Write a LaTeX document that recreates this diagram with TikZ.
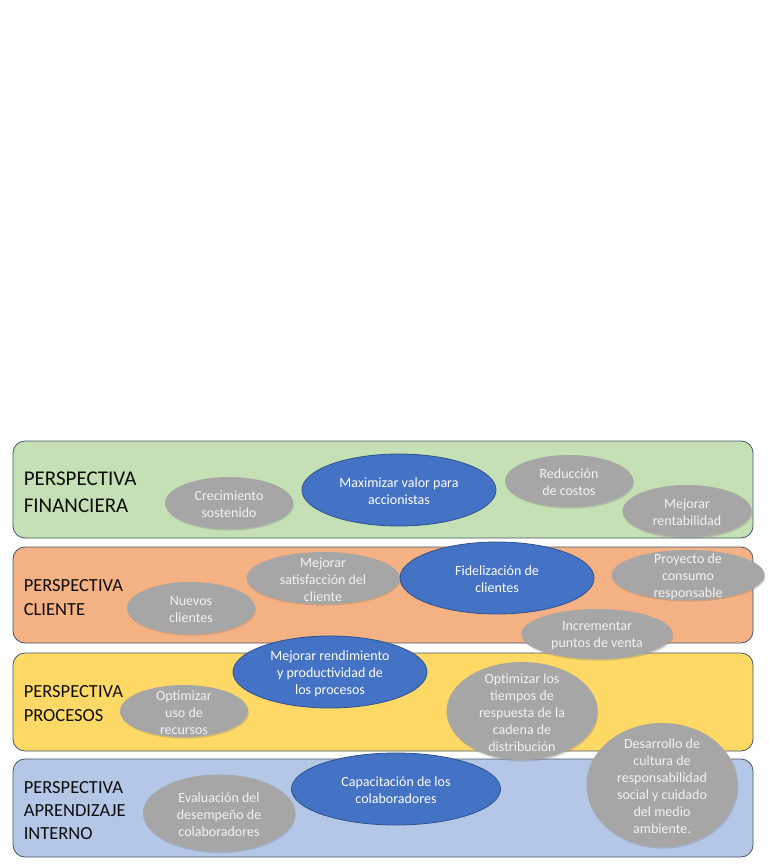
\documentclass[tikz,border=0pt]{standalone}
\usepackage{fontspec}
\setmainfont{Carlito}
\usepackage{tikz}
\usetikzlibrary{shapes.geometric, shadows, positioning}
\definecolor{bandline}{RGB}{68, 84, 106}
\definecolor{finfill}{RGB}{197, 224, 180}
\definecolor{clifill}{RGB}{244, 177, 131}
\definecolor{profill}{RGB}{255, 217, 102}
\definecolor{aprfill}{RGB}{180, 199, 231}
\definecolor{goalblue}{RGB}{68, 114, 196}
\definecolor{goalline}{RGB}{47, 82, 143}
\definecolor{goalgray}{RGB}{166, 166, 166}
\definecolor{goaltext}{RGB}{242, 242, 242}

\begin{document}
\begin{tikzpicture}[x=1pt, y=-1pt,
  band/.style={draw=bandline, line width=0.8pt, rounded corners=12pt, minimum width=740pt, inner sep=0pt},
  bandtxt/.style={anchor=west, align=left, text=black!95, inner sep=0pt},
  bigtxt/.style={font={\fontsize{21}{27}\selectfont}},
  midtxt/.style={font={\fontsize{18.5}{24}\selectfont}},
  goaltxt/.style={align=center, font={\fontsize{14}{17}\selectfont}, inner sep=0pt, yshift=-1.5pt},
  graygoal/.style={ellipse, fill=goalgray, inner sep=0pt,
    drop shadow={shadow xshift=0.8pt, shadow yshift=-1.6pt, opacity=0.35},
    label={[goaltxt, text=goaltext]center:{#1}}},
  bluegoal/.style={ellipse, draw=goalline, line width=0.8pt, fill=goalblue, inner sep=0pt,
    label={[goaltxt, text=white]center:{#1}}}]
  \useasboundingbox (0,0) rectangle (768,866);

  % perspectivas
  \node[band, fill=finfill, minimum height=97pt] (fin) at (383,489.5) {};
  \node[band, fill=clifill, minimum height=96pt] (cli) at (383,595) {};
  \node[band, fill=profill, minimum height=98pt] (pro) at (383,702) {};
  \node[band, fill=aprfill, minimum height=98pt] (apr) at (383,808) {};

  \node[bandtxt, bigtxt, right=11pt of fin.west, yshift=-3pt] (finlbl) {PERSPECTIVA\\FINANCIERA};
  \node[bandtxt, midtxt, right=11pt of cli.west, yshift=-2.5pt] (clilbl) {PERSPECTIVA\\CLIENTE};
  \node[bandtxt, midtxt, right=11pt of pro.west, yshift=-2pt] (prolbl) {PERSPECTIVA\\PROCESOS};
  \node[bandtxt, midtxt, right=11pt of apr.west, yshift=-2.5pt, font={\fontsize{18.5}{23}\selectfont}] (aprlbl) {PERSPECTIVA\\APRENDIZAJE\\INTERNO};

  % financiera
  \node[graygoal={Crecimiento\\sostenido}, minimum width=128pt, minimum height=52pt] (crec) at (229,503) {};
  \node[bluegoal={Maximizar valor para\\accionistas}, minimum width=194pt, minimum height=72pt] (maxv) at (399,490) {};
  \node[graygoal={Reducción\\de costos}, minimum width=128pt, minimum height=52pt] (redu) at (569,481) {};
  \node[graygoal={Mejorar\\rentabilidad}, minimum width=129pt, minimum height=52pt] (rent) at (687,511) {};

  % cliente
  \node[graygoal={Nuevos\\clientes}, minimum width=128pt, minimum height=52pt] (nuev) at (191,608) {};
  \node[graygoal={Mejorar\\satisfacción del\\cliente}, minimum width=153pt, minimum height=52pt] (sati) at (323,578) {};
  \node[bluegoal={Fidelización de\\clientes}, minimum width=194pt, minimum height=72pt] (fide) at (497,578) {};
  \node[graygoal={Proyecto de\\consumo\\responsable}, minimum width=153pt, minimum height=50pt] (proy) at (688,575) {};
  \node[graygoal={Incrementar\\puntos de venta}, minimum width=151pt, minimum height=50pt] (incr) at (597,634) {};

  % procesos
  \node[bluegoal={Mejorar rendimiento\\y productividad de\\los procesos}, minimum width=194pt, minimum height=72pt] (rend) at (330,672) {};
  \node[graygoal={Optimizar\\uso de\\recursos}, minimum width=128pt, minimum height=52pt] (optu) at (184,711) {};
  \node[graygoal={Optimizar los\\tiempos de\\respuesta de la\\cadena de\\distribución}, minimum width=151pt, minimum height=98pt] (optt) at (522,711) {};

  % aprendizaje interno
  \node[graygoal={Evaluación del\\desempeño de\\colaboradores}, minimum width=152pt, minimum height=77pt] (eval) at (219,813) {};
  \node[bluegoal={Capacitación de los\\colaboradores}, minimum width=209pt, minimum height=72pt] (capa) at (396,789) {};
  \node[graygoal={Desarrollo de\\cultura de\\responsabilidad\\social y cuidado\\del medio\\ambiente.}, minimum width=151pt, minimum height=124pt] (desa) at (662,785) {};
\end{tikzpicture}
\end{document}
